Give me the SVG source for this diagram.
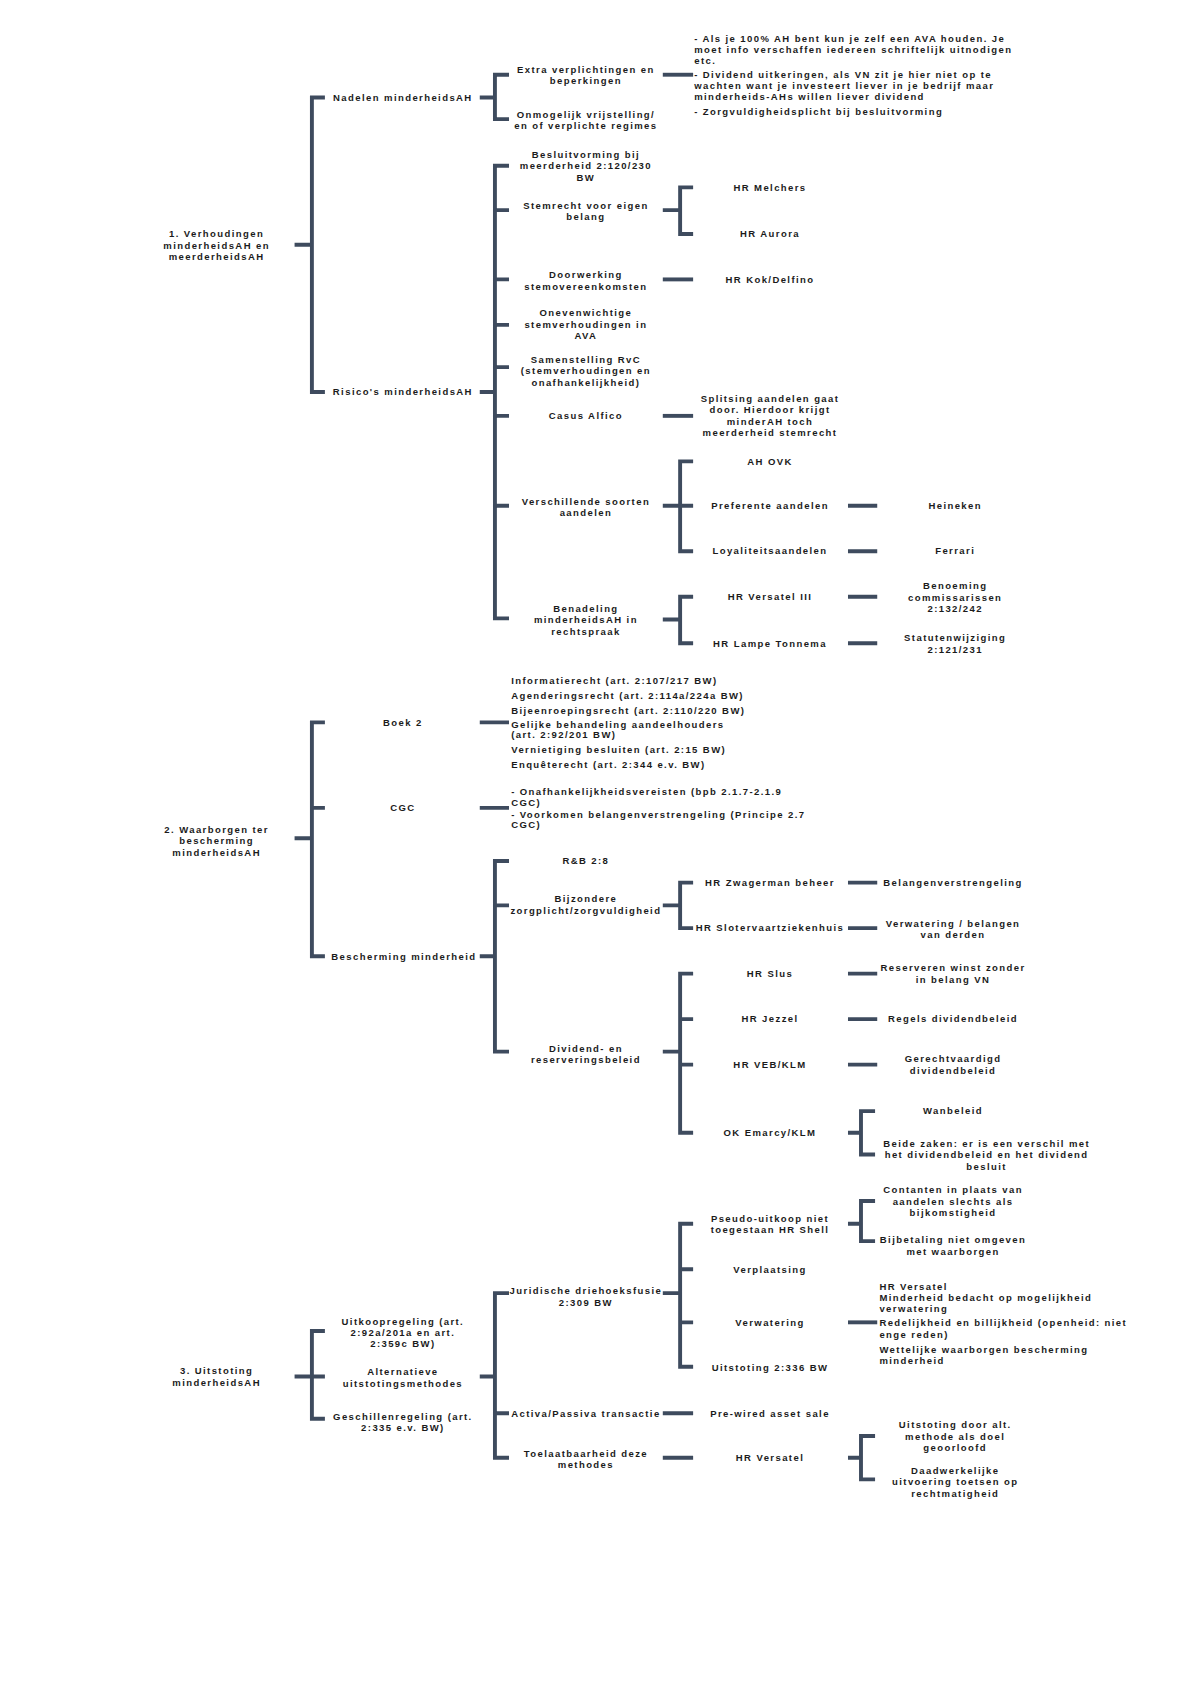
<svg xmlns="http://www.w3.org/2000/svg" width="1200" height="1698" viewBox="0 0 1200 1698">
<style>
.t{font-family:"Liberation Sans",Arial,sans-serif;font-size:8.8px;font-weight:bold;letter-spacing:1.3px;fill:#1b1b1b}
.c{text-anchor:middle}
.l{text-anchor:start}
.k{fill:none;stroke:#3e4b5e;stroke-width:3.6;stroke-linejoin:miter;stroke-linecap:butt}
</style>
<rect width="1200" height="1698" fill="#ffffff"/>
<g transform="scale(1.083)">
<g id="connectors" class="k">
<path d="M300 90H288V362H300M272 226H288"/>
<path d="M470 69H457V110H470M443 90H457"/>
<path d="M612 69H640"/>
<path d="M470 153H457V571H470M457 194H470M457 258H470M457 300H470M457 339H470M457 384H470M457 467H470M443 362H457"/>
<path d="M640 173H628V216H640M612 194H628"/>
<path d="M612 258H640"/>
<path d="M612 384H640"/>
<path d="M640 426H628V509H640M628 467H640M612 467H628"/>
<path d="M783 467H810M783 509H810"/>
<path d="M640 551H628V594H640M612 572H628"/>
<path d="M783 551H810M783 594H810"/>
<path d="M300 667H288V883H300M288 746H300M272 774H288"/>
<path d="M443 667H470M443 746H470"/>
<path d="M470 795H457V971H470M457 836H470M443 883H457"/>
<path d="M640 815H628V857H640M612 836H628"/>
<path d="M783 815H810M783 857H810"/>
<path d="M640 899H628V1046H640M628 941H640M628 983H640M612 971H628"/>
<path d="M783 899H810M783 941H810M783 983H810"/>
<path d="M808 1026H795V1066H808M783 1046H795"/>
<path d="M300 1229H288V1310H300M288 1271H300M272 1271H288"/>
<path d="M470 1194H457V1346H470M457 1305H470M443 1271H457"/>
<path d="M640 1130H628V1262H640M628 1172H640M628 1221H640M612 1194H628"/>
<path d="M808 1109H795V1146H808M783 1130H795"/>
<path d="M783 1221H810"/>
<path d="M612 1305H640M612 1346H640"/>
<path d="M808 1326H795V1366H808M783 1346H795"/>
</g>

<g id="root1" class="t c"><text x="200" y="219">1. Verhoudingen</text><text x="200" y="229.5">minderheidsAH en</text><text x="200" y="240">meerderheidsAH</text></g>
<g id="nadelen" class="t c"><text x="372" y="93">Nadelen minderheidsAH</text></g>
<g id="extra" class="t c"><text x="541" y="67">Extra verplichtingen en</text><text x="541" y="77.5">beperkingen</text></g>
<g id="extra-details" class="t l">
<text x="641" y="39">- Als je 100% AH bent kun je zelf een AVA houden. Je</text>
<text x="641" y="49">moet info verschaffen iedereen schriftelijk uitnodigen</text>
<text x="641" y="59.5">etc.</text>
<text x="641" y="72">- Dividend uitkeringen, als VN zit je hier niet op te</text>
<text x="641" y="82">wachten want je investeert liever in je bedrijf maar</text>
<text x="641" y="92">minderheids-AHs willen liever dividend</text>
<text x="641" y="106">- Zorgvuldigheidsplicht bij besluitvorming</text>
</g>
<g id="onmogelijk" class="t c"><text x="541" y="109">Onmogelijk vrijstelling/</text><text x="541" y="119.5">en of verplichte regimes</text></g>
<g id="risicos" class="t c"><text x="372" y="365">Risico's minderheidsAH</text></g>
<g id="besluitvorming" class="t c"><text x="541" y="146">Besluitvorming bij</text><text x="541" y="156.5">meerderheid 2:120/230</text><text x="541" y="167">BW</text></g>
<g id="stemrecht" class="t c"><text x="541" y="193">Stemrecht voor eigen</text><text x="541" y="203.5">belang</text></g>
<g id="melchers" class="t c"><text x="711" y="176">HR Melchers</text></g>
<g id="aurora" class="t c"><text x="711" y="219">HR Aurora</text></g>
<g id="doorwerking" class="t c"><text x="541" y="257">Doorwerking</text><text x="541" y="267.5">stemovereenkomsten</text></g>
<g id="kok" class="t c"><text x="711" y="261">HR Kok/Delfino</text></g>
<g id="onevenwichtig" class="t c"><text x="541" y="292">Onevenwichtige</text><text x="541" y="302.5">stemverhoudingen in</text><text x="541" y="313">AVA</text></g>
<g id="samenstelling" class="t c"><text x="541" y="335">Samenstelling RvC</text><text x="541" y="345.5">(stemverhoudingen en</text><text x="541" y="356">onafhankelijkheid)</text></g>
<g id="casus" class="t c"><text x="541" y="387">Casus Alfico</text></g>
<g id="splitsing" class="t c"><text x="711" y="371">Splitsing aandelen gaat</text><text x="711" y="381.5">door. Hierdoor krijgt</text><text x="711" y="392">minderAH toch</text><text x="711" y="402.5">meerderheid stemrecht</text></g>
<g id="verschillende" class="t c"><text x="541" y="466">Verschillende soorten</text><text x="541" y="476.5">aandelen</text></g>
<g id="ahovk" class="t c"><text x="711" y="429">AH OVK</text></g>
<g id="preferente" class="t c"><text x="711" y="470">Preferente aandelen</text></g>
<g id="heineken" class="t c"><text x="882" y="470">Heineken</text></g>
<g id="loyaliteit" class="t c"><text x="711" y="512">Loyaliteitsaandelen</text></g>
<g id="ferrari" class="t c"><text x="882" y="512">Ferrari</text></g>
<g id="benadeling" class="t c"><text x="541" y="565">Benadeling</text><text x="541" y="575.5">minderheidsAH in</text><text x="541" y="586">rechtspraak</text></g>
<g id="versatel3" class="t c"><text x="711" y="554">HR Versatel III</text></g>
<g id="benoeming" class="t c"><text x="882" y="544">Benoeming</text><text x="882" y="554.5">commissarissen</text><text x="882" y="565">2:132/242</text></g>
<g id="lampe" class="t c"><text x="711" y="597">HR Lampe Tonnema</text></g>
<g id="statuten" class="t c"><text x="882" y="592">Statutenwijziging</text><text x="882" y="602.5">2:121/231</text></g>

<g id="root2" class="t c"><text x="200" y="769">2. Waarborgen ter</text><text x="200" y="779.5">bescherming</text><text x="200" y="790">minderheidsAH</text></g>
<g id="boek2" class="t c"><text x="372" y="670">Boek 2</text></g>
<g id="boek2-details" class="t l">
<text x="472" y="632">Informatierecht (art. 2:107/217 BW)</text>
<text x="472" y="645.5">Agenderingsrecht (art. 2:114a/224a BW)</text>
<text x="472" y="659">Bijeenroepingsrecht (art. 2:110/220 BW)</text>
<text x="472" y="672">Gelijke behandeling aandeelhouders</text>
<text x="472" y="681.5">(art. 2:92/201 BW)</text>
<text x="472" y="695">Vernietiging besluiten (art. 2:15 BW)</text>
<text x="472" y="709">Enquêterecht (art. 2:344 e.v. BW)</text>
</g>
<g id="cgc" class="t c"><text x="372" y="749">CGC</text></g>
<g id="cgc-details" class="t l">
<text x="472" y="734">- Onafhankelijkheidsvereisten (bpb 2.1.7-2.1.9</text>
<text x="472" y="744">CGC)</text>
<text x="472" y="755">- Voorkomen belangenverstrengeling (Principe 2.7</text>
<text x="472" y="765">CGC)</text>
</g>
<g id="bescherming" class="t c"><text x="373" y="886">Bescherming minderheid</text></g>
<g id="rb" class="t c"><text x="541" y="798">R&amp;B 2:8</text></g>
<g id="bijzondere" class="t c"><text x="541" y="833">Bijzondere</text><text x="541" y="843.5">zorgplicht/zorgvuldigheid</text></g>
<g id="zwagerman" class="t c"><text x="711" y="818">HR Zwagerman beheer</text></g>
<g id="belangen" class="t c"><text x="880" y="818">Belangenverstrengeling</text></g>
<g id="slotervaart" class="t c"><text x="711" y="860">HR Slotervaartziekenhuis</text></g>
<g id="verwatering-derden" class="t c"><text x="880" y="856">Verwatering / belangen</text><text x="880" y="866">van derden</text></g>
<g id="dividend" class="t c"><text x="541" y="971">Dividend- en</text><text x="541" y="981.5">reserveringsbeleid</text></g>
<g id="slus" class="t c"><text x="711" y="902">HR Slus</text></g>
<g id="reserveren" class="t c"><text x="880" y="897">Reserveren winst zonder</text><text x="880" y="907.5">in belang VN</text></g>
<g id="jezzel" class="t c"><text x="711" y="944">HR Jezzel</text></g>
<g id="regels" class="t c"><text x="880" y="944">Regels dividendbeleid</text></g>
<g id="veb" class="t c"><text x="711" y="986">HR VEB/KLM</text></g>
<g id="gerechtvaardigd" class="t c"><text x="880" y="981">Gerechtvaardigd</text><text x="880" y="991.5">dividendbeleid</text></g>
<g id="emarcy" class="t c"><text x="711" y="1049">OK Emarcy/KLM</text></g>
<g id="wanbeleid" class="t c"><text x="880" y="1029">Wanbeleid</text></g>
<g id="beide" class="t c"><text x="911" y="1059">Beide zaken: er is een verschil met</text><text x="911" y="1069.5">het dividendbeleid en het dividend</text><text x="911" y="1080">besluit</text></g>

<g id="root3" class="t c"><text x="200" y="1269">3. Uitstoting</text><text x="200" y="1279.5">minderheidsAH</text></g>
<g id="uitkoop" class="t c"><text x="372" y="1223">Uitkoopregeling (art.</text><text x="372" y="1233.5">2:92a/201a en art.</text><text x="372" y="1244">2:359c BW)</text></g>
<g id="alternatieve" class="t c"><text x="372" y="1270">Alternatieve</text><text x="372" y="1280.5">uitstotingsmethodes</text></g>
<g id="geschillen" class="t c"><text x="372" y="1311">Geschillenregeling (art.</text><text x="372" y="1321.5">2:335 e.v. BW)</text></g>
<g id="juridische" class="t c"><text x="541" y="1195">Juridische driehoeksfusie</text><text x="541" y="1205.5">2:309 BW</text></g>
<g id="pseudo" class="t c"><text x="711" y="1128">Pseudo-uitkoop niet</text><text x="711" y="1138.5">toegestaan HR Shell</text></g>
<g id="contanten" class="t c"><text x="880" y="1102">Contanten in plaats van</text><text x="880" y="1112.5">aandelen slechts als</text><text x="880" y="1123">bijkomstigheid</text></g>
<g id="bijbetaling" class="t c"><text x="880" y="1148">Bijbetaling niet omgeven</text><text x="880" y="1158.5">met waarborgen</text></g>
<g id="verplaatsing" class="t c"><text x="711" y="1175">Verplaatsing</text></g>
<g id="verwatering" class="t c"><text x="711" y="1224">Verwatering</text></g>
<g id="verwatering-details" class="t l">
<text x="812" y="1191">HR Versatel</text>
<text x="812" y="1201">Minderheid bedacht op mogelijkheid</text>
<text x="812" y="1211.5">verwatering</text>
<text x="812" y="1224">Redelijkheid en billijkheid (openheid: niet</text>
<text x="812" y="1235">enge reden)</text>
<text x="812" y="1249">Wettelijke waarborgen bescherming</text>
<text x="812" y="1259.5">minderheid</text>
</g>
<g id="uitstoting336" class="t c"><text x="711" y="1266">Uitstoting 2:336 BW</text></g>
<g id="activa" class="t c"><text x="541" y="1308">Activa/Passiva transactie</text></g>
<g id="prewired" class="t c"><text x="711" y="1308">Pre-wired asset sale</text></g>
<g id="toelaatbaarheid" class="t c"><text x="541" y="1345">Toelaatbaarheid deze</text><text x="541" y="1355.5">methodes</text></g>
<g id="versatel-uitstoting" class="t c"><text x="711" y="1349">HR Versatel</text></g>
<g id="uitstoting-alt" class="t c"><text x="882" y="1319">Uitstoting door alt.</text><text x="882" y="1329.5">methode als doel</text><text x="882" y="1340">geoorloofd</text></g>
<g id="daadwerkelijk" class="t c"><text x="882" y="1361">Daadwerkelijke</text><text x="882" y="1371.5">uitvoering toetsen op</text><text x="882" y="1382">rechtmatigheid</text></g>
</g>
</svg>
